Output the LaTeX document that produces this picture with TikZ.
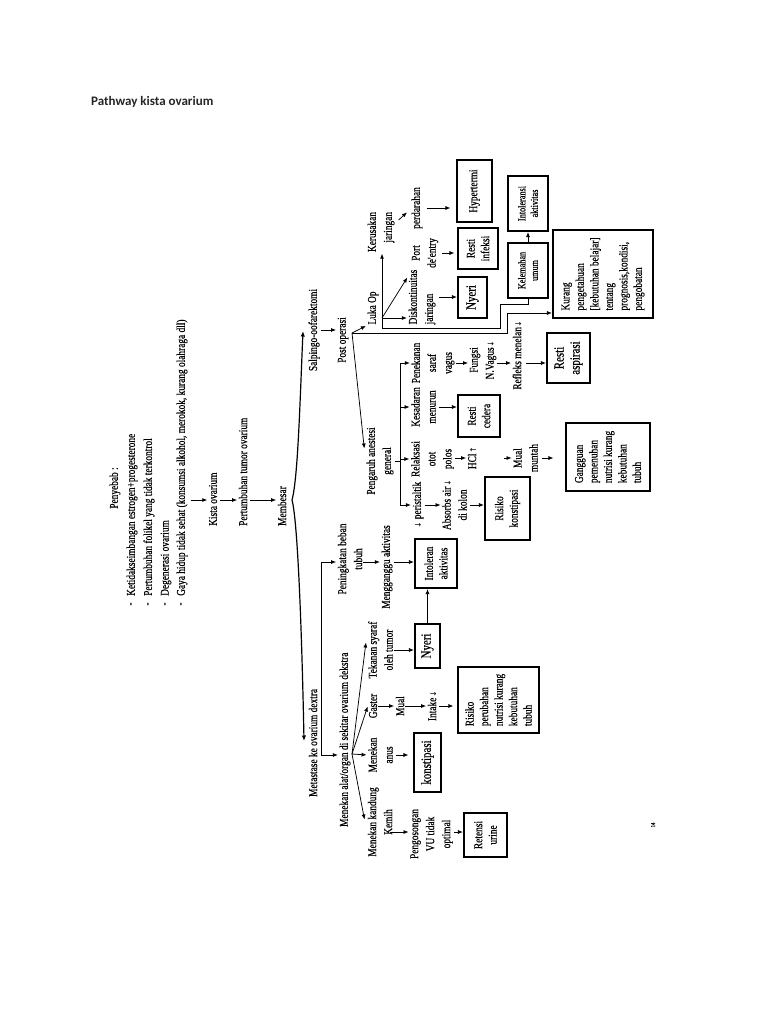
\documentclass[tikz,border=0pt]{standalone}
\usepackage{fontspec}
\setmainfont{Liberation Serif}
\newfontfamily\condf[FakeStretch=0.78,FakeBold=0.5]{Liberation Serif}
\newfontfamily\titf{Carlito}
\newfontfamily\arrf{DejaVu Sans}
\usetikzlibrary{arrows.meta,calc}
\newcommand\dnarr{{\arrf\fontsize{8}{8}\selectfont\char"2193}}
\newcommand\uparr{{\arrf\fontsize{8}{8}\selectfont\char"2191}}
\newcommand\lblfont{\condf\fontsize{12}{16}\selectfont}
\newcommand\boxfont{\condf\fontsize{12}{14.5}\selectfont}
\newcommand\bigboxfont{\condf\fontsize{14}{16}\selectfont}
\newcommand\smallboxfont{\condf\fontsize{10.5}{12.5}\selectfont}
\tikzset{
  lbl/.style={rotate=90, inner sep=1pt, align=center, font=\lblfont},
  box/.style={rotate=90, draw, line width=1.1pt, inner sep=2pt, align=center, font=\boxfont},
  arr/.style={-{Latex[length=5pt,width=4pt]}, line width=0.75pt, shorten >=0.5pt},
  ln/.style={line width=0.75pt},
  brace/.style={-{Latex[length=5.5pt,width=4.4pt]}, line width=1.2pt},
}
\begin{document}
\begin{tikzpicture}[x=1pt,y=-1pt]
\fill[white] (0,0) rectangle (768,1024);
\useasboundingbox (0,0) rectangle (768,1024);

% title
\node[anchor=west, inner sep=0, font=\titf\bfseries\fontsize{13}{16}\selectfont, text=black!85] (title) at (91,102) {Pathway kista ovarium};

% causes
\node[lbl] (peny) at (115,488) {Penyebab :};
\node[lbl,anchor=west] (c1) at (132,597) {Ketidakseimbangan estrogen+progesterone};
\node[lbl,anchor=west] (c2) at (149,597) {Pertumbuhan folikel yang tidak terkontrol};
\node[lbl,anchor=west] (c3) at (166,597) {Degenerasi ovarium};
\node[lbl,anchor=west] (c4) at (182,597) {Gaya hidup tidak sehat (konsumsi alkohol, merokok, kurang olahraga dll)};
\node[lbl] (d1) at (132,604) {-};
\node[lbl] (d2) at (149,604) {-};
\node[lbl] (d3) at (166,604) {-};
\node[lbl] (d4) at (182,604) {-};

\coordinate (rowA) at (0,500);
\node[lbl,anchor=west] (kista) at (213,527) {Kista ovarium};
\node[lbl,anchor=west] (pert) at (243,527) {Pertumbuhan tumor ovarium};
\node[lbl,anchor=west] (mem) at (282,527) {Membesar};
\draw[arr, shorten <=2pt] (c4.south |- rowA) -- (kista.north |- rowA);
\draw[arr, shorten <=2pt] (kista.south |- rowA) -- (pert.north |- rowA);
\draw[arr, shorten <=2pt] (pert.south |- rowA) -- (mem.north |- rowA);

% brace from Membesar
\coordinate (mt) at (292,500);
\coordinate (st) at (303,331);
\coordinate (mb) at (304,741);
\draw[brace] (mt) .. controls (298,478) and (300,400) .. (st);
\draw[brace] (mt) .. controls (298,522) and (302,640) .. (mb);

% upper branch
\node[lbl] (sal) at (314,330) {Salpingo-oofarektomi};
\node[lbl] (post) at (343,340) {Post operasi};
\draw[arr] (sal.south) -- (sal.south -| post.north);
\coordinate (pj) at (352,333);
\node[lbl] (luka) at (373,308) {Luka Op};
\draw[arr] (pj) -- (luka.north west);
\coordinate (lj) at (382,318);
\coordinate (lb) at (382,328);
\node[lbl, align=right] (ker) at (381,232) {Kerusakan\\jaringan};
\draw[arr] (lb) -- (lb |- ker.west);
\node[lbl, align=left] (dis) at (422,297) {Diskontinuitas\\jaringan};
\draw[arr] (lj) -- (lj -| dis.north);
\node[lbl] (port) at (425,253) {Port\\de'entry};
\draw[arr] (lj) -- ($(port.north west)+(-3,8)$);
\node[lbl] (perd) at (417,208) {perdarahan};
\draw[arr] ($(ker.south)+(3,-12)$) -- ($(perd.north west)+(-3,-18)$);

\node[box, minimum width=62pt, minimum height=35pt] (hyp) at (474.5,191) {Hypertermi};
\draw[arr, shorten <=3pt, shorten >=6pt] (perd.south) -- (perd.south -| hyp.north);
\node[box, minimum width=41pt, minimum height=40pt] (res) at (478,248.5) {Resti\\infeksi};
\draw[arr, shorten <=3pt, shorten >=3pt] (port.south) -- (port.south -| res.north);
\node[box, font=\bigboxfont, minimum width=41pt, minimum height=29pt] (nye1) at (472.5,297.5) {Nyeri};
\draw[arr, shorten <=2pt] (dis.south) -- (dis.south -| nye1.north);

\node[box, font=\smallboxfont, minimum width=55pt, minimum height=40pt] (kel) at (528,270.5) {Kelemahan\\umum};
\node[box, font=\smallboxfont, minimum width=55pt, minimum height=40pt] (into) at (528,203.5) {Intoleransi\\aktivitas};
\draw[arr] (kel.east) -- (into.west);
\node[box, align=left, minimum width=88pt, minimum height=100pt] (kur) at (603,274) {Kurang\\pengetahuan\\{[}kebutuhan belajar{]}\\tentang\\prognosis,kondisi,\\pengobatan};

\coordinate (c1k) at (500,304);
\draw[ln] (lb) -| (c1k) -| (kel.west);
\coordinate (c2k) at (507,313);
\draw[arr] (pj) -| (c2k) -- (c2k -| kur.north);

% anaesthesia
\node[lbl] (pa) at (380,461) {Pengaruh anestesi\\general};
\draw[arr] (pj) -- ($(pa.north)+(-1,-12)$);
\coordinate (vx) at (400,467);
\draw[ln] (pa.south) -- (pa.south -| vx);
\node[lbl] (pen) at (433,363) {Penekanan\\saraf\\vagus};
\node[lbl] (kes) at (423.5,407) {Kesadaran\\menurun};
\node[lbl] (rel) at (432.5,459) {Relaksasi\\otot\\polos};
\node[lbl] (peri) at (418,505) {\dnarr\ peristaltik};
\draw[ln] (vx |- pen) -- (vx |- peri);
\draw[arr] (vx |- pen) -- (pen.north);
\draw[arr] (vx |- kes) -- (kes.north);
\draw[arr] (vx |- rel) -- (rel.north);
\draw[arr] (vx |- peri) -- (peri.north);

\node[lbl] (abs) at (454.5,505) {Absorbs air\dnarr\\di kolon};
\draw[arr] (peri.south) -- (abs.north);
\node[box, minimum width=63pt, minimum height=45pt] (rk) at (507.5,508.5) {Risiko\\konstipasi};
\draw[arr, shorten <=2pt] (abs.south) -- (abs.south -| rk.north);
\node[box, minimum width=42pt, minimum height=42pt] (ced) at (479,416) {Resti\\cedera};
\draw[arr, shorten <=2pt] (kes.south) -- (kes.south -| ced.north);
\node[lbl] (hcl) at (472,458) {HCl\uparr};
\draw[arr] (rel.south |- hcl) -- (hcl.north);
\node[lbl] (mual2) at (525.5,458) {Mual\\muntah};
\draw[arr, shorten <=27pt] (hcl.south) -- (mual2.north);
\node[box, align=left, minimum width=68pt, minimum height=84pt] (gang) at (608,457) {Gangguan\\pemenuhan\\nutrisi kurang\\kebutuhan\\tubuh};
\draw[arr, shorten <=3pt, shorten >=12pt] (mual2.south) -- (mual2.south -| gang.north);

\node[lbl] (fun) at (483,360) {Fungsi\\N.Vagus\dnarr};
\draw[arr] (pen.south |- pen) -- (pen.south -| fun.north);
\node[lbl] (ref) at (517,355) {Refleks menelan\dnarr};
\draw[arr] (fun.south |- pen) -- (ref.north |- pen);
\node[box, font=\bigboxfont, minimum width=50pt, minimum height=43pt] (asp) at (568.5,358) {Resti\\aspirasi};
\draw[arr, shorten <=4pt] (ref.south |- pen) -- (asp.north |- pen);

% lower branch
\node[lbl,anchor=west] (meta) at (313,798) {Metastase ke ovarium dextra};
\coordinate (mv1) at (321,562);
\coordinate (mv2) at (321,755);
\node[lbl] (pb) at (350,559) {Peningkatan beban\\tubuh};
\node[lbl,anchor=west] (mk) at (345,828) {Menekan alat/organ di sekitar ovarium dekstra};
\draw[arr] (mv2) -- (mv1) -- (mv1 -| pb.north);
\draw[arr] (mv2) -- (mv2 -| mk.north);
\node[lbl] (mga) at (387,567) {Mengganggu aktivitas};
\draw[arr] (pb.south |- mv1) -- (mga.north |- mv1);
\node[box, minimum width=49pt, minimum height=42pt] (inta) at (436,563.5) {Intoleran\\aktivitas};
\draw[arr] (mga.south |- mv1) -- (mv1 -| inta.north);
\node[box, font=\bigboxfont, minimum width=44pt, minimum height=25pt] (nye2) at (427.5,646) {Nyeri};
\draw[arr] (nye2.east) -- (nye2.east |- inta.west);
\node[lbl] (tek) at (380.5,650) {Tekanan syaraf\\oleh tumor};
\draw[arr] (tek.south) -- (tek.south -| nye2.north);

\coordinate (fp) at (352,754);
\node[lbl] (gas) at (373,706) {Gaster};
\node[lbl] (man) at (380.5,755) {Menekan\\anus};
\node[lbl] (mkk) at (380,822) {Menekan kandung\\Kemih};
\draw[arr] (fp) -- ($(tek.north)+(-1,-8)$);
\draw[arr] (fp) -- (gas.north);
\draw[arr] (fp) -- (man.north);
\draw[arr] (fp) -- ($(mkk.north)+(-2,-2)$);

\node[lbl] (mual1) at (400,706) {Mual};
\draw[arr] (gas.south) -- (mual1.north);
\node[lbl] (intk) at (432,706) {Intake\dnarr};
\draw[arr] (mual1.south) -- (intk.north);
\node[box, align=left, minimum width=66pt, minimum height=81pt] (rp) at (498.5,700) {Risiko\\perubahan\\nutrisi kurang\\kebutuhan\\tubuh};
\draw[arr, shorten <=2pt, shorten >=4pt] (intk.south) -- (intk.south -| rp.north);
\node[box, font=\bigboxfont, minimum width=59pt, minimum height=27pt] (kon) at (427.5,762.5) {konstipasi};
\draw[arr, shorten <=2pt, shorten >=5pt] (man.south) -- (man.south -| kon.north);
\node[lbl] (pvu) at (431.5,834) {Pengosongan\\VU tidak\\optimal};
\coordinate (kr) at (390,832);
\draw[arr] (kr) -- (kr -| pvu.north);
\node[box, minimum width=44pt, minimum height=43pt] (ret) at (485.5,835) {Retensi\\urine};
\draw[arr] (pvu.south |- kr) -- (kr -| ret.north);

\node[lbl, font=\condf\fontsize{6}{6}\selectfont] (pg) at (653,825) {14};
\end{tikzpicture}
\end{document}
